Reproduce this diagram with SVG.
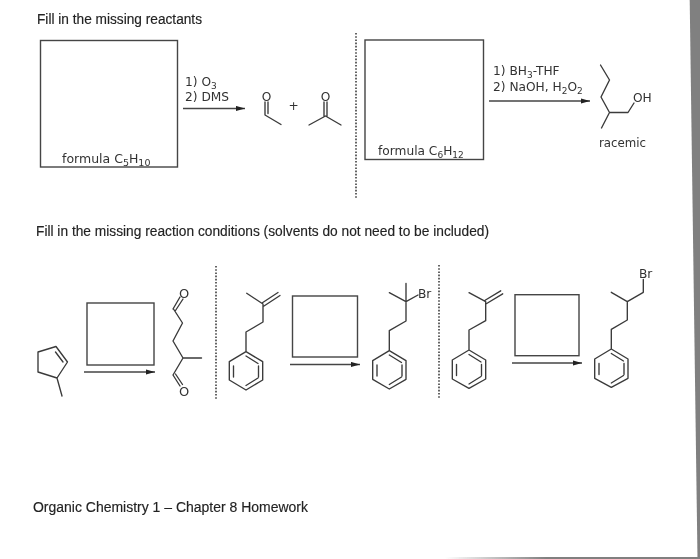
<svg xmlns="http://www.w3.org/2000/svg" width="700" height="559" viewBox="0 0 700 559">
<style>
.h{font-family:"Liberation Sans",Arial,sans-serif;font-size:14px;fill:#222;stroke:#222;stroke-width:0.15}
.t{font-family:"DejaVu Sans",Verdana,sans-serif;font-size:12.200px;fill:#333}
.s{font-size:9px}
.box{fill:#fff;stroke:#444;stroke-width:1.4}
.b{fill:none;stroke:#3a3a3a;stroke-width:1.350;stroke-linecap:round;stroke-linejoin:round}
.ar{fill:none;stroke:#444;stroke-width:1.300}
.dot{fill:none;stroke:#333;stroke-width:1.500;stroke-dasharray:1.600 1.600}
</style>
<defs>
<marker id="ah" markerUnits="userSpaceOnUse" markerWidth="9" markerHeight="6" refX="9" refY="3" orient="auto"><path d="M0 0.400L9 3L0 5.600Z" fill="#222"/></marker>
<linearGradient id="fade" x1="0" x2="1" y1="0" y2="0"><stop offset="0" stop-color="#808080" stop-opacity="0"/><stop offset="0.4" stop-color="#808080"/></linearGradient>
<filter id="soft" x="0" y="0" width="100%" height="100%"><feGaussianBlur stdDeviation="0.35"/></filter>
</defs>
<rect width="700" height="559" fill="#fff"/>
<g filter="url(#soft)">
<g id="page-edge">
<polygon points="689.700,0 700,0 700,559 697.500,559" fill="#808080"/>
<rect x="445" y="557" width="253" height="2" fill="url(#fade)"/>
</g>
<g id="headings">
<text class="h" x="37" y="24" textLength="165" lengthAdjust="spacingAndGlyphs">Fill in the missing reactants</text>
<text class="h" x="36" y="236" textLength="453" lengthAdjust="spacingAndGlyphs">Fill in the missing reaction conditions (solvents do not need to be included)</text>
<text class="h" x="33" y="512" textLength="275" lengthAdjust="spacingAndGlyphs">Organic Chemistry 1 – Chapter 8 Homework</text>
</g>
<g id="connectors">
<line class="ar" x1="183" y1="108.500" x2="245" y2="108.500" marker-end="url(#ah)"/>
<line class="ar" x1="489" y1="101" x2="590" y2="101" marker-end="url(#ah)"/>
<line class="ar" x1="84" y1="372" x2="155" y2="372" marker-end="url(#ah)"/>
<line class="ar" x1="290" y1="364.500" x2="360" y2="364.500" marker-end="url(#ah)"/>
<line class="ar" x1="512" y1="363" x2="582" y2="363" marker-end="url(#ah)"/>
<line class="dot" x1="356" y1="33" x2="356" y2="198"/>
<line class="dot" x1="216" y1="266" x2="216" y2="400"/>
<line class="dot" x1="439" y1="265" x2="439" y2="398"/>
</g>
<g id="box-c5h10">
<rect class="box" x="40.500" y="40.500" width="137" height="126.500"/>
<text class="t" x="62" y="163" style="font-size:12.500px">formula C<tspan class="s" dy="3" style="font-size:9.500px">5</tspan><tspan dy="-3">H</tspan><tspan class="s" dy="3" style="font-size:9.500px">10</tspan></text>
</g>
<g id="cond-ozonolysis">
<text class="t" x="185" y="86">1) O<tspan class="s" dy="3">3</tspan></text>
<text class="t" x="185" y="101">2) DMS</text>
</g>
<g id="aldehyde">
<path class="b" d="M265 102V115L281 124.500M268 102V113.500"/>
<text class="t" x="266.500" y="101" text-anchor="middle">O</text>
</g>
<g id="plus"><text class="t" x="293.500" y="110" text-anchor="middle">+</text></g>
<g id="acetone">
<path class="b" d="M324 102V116M327 102V116M309 125L325.500 116L341 125"/>
<text class="t" x="325.500" y="101" text-anchor="middle">O</text>
</g>
<g id="box-c6h12">
<rect class="box" x="365" y="40" width="118.500" height="119.500"/>
<text class="t" x="378" y="155">formula C<tspan class="s" dy="3">6</tspan><tspan dy="-3">H</tspan><tspan class="s" dy="3">12</tspan></text>
</g>
<g id="cond-hydroboration">
<text class="t" x="493" y="75">1) BH<tspan class="s" dy="3">3</tspan><tspan dy="-3">-THF</tspan></text>
<text class="t" x="493" y="91">2) NaOH, H<tspan class="s" dy="3">2</tspan><tspan dy="-3">O</tspan><tspan class="s" dy="3">2</tspan></text>
</g>
<g id="alcohol">
<path class="b" d="M600.500 65L609.500 80L601 97L609.500 112.500L628 112.500L634 103M609.500 112.500L601.500 128"/>
<text class="t" x="633" y="102">OH</text>
<text class="t" x="599" y="147" style="font-size:11.800px">racemic</text>
</g>
<g id="methylcyclopentene">
<path class="b" d="M38 352L56 346.500L67.500 362L57 378L38 372ZM55.500 352L63 362M57 378L62 396"/>
</g>
<g id="box-a">
<rect class="box" x="87" y="303" width="67" height="62"/>
</g>
<g id="dialdehyde">
<path class="b" d="M180 297L173 309M183 299L175.500 310.500M173.500 309L182.500 323L173 341L183 358L201.500 358M183 358L173 375M173 375L180 386M175.500 374L182.500 384.500"/>
<text class="t" x="184" y="298" text-anchor="middle" style="font-size:13px">O</text>
<text class="t" x="184" y="396" text-anchor="middle" style="font-size:13px">O</text>
</g>
<g id="alkene-1">
<path class="b" d="M246 351.700L262.700 361.700V380L246 390L229.300 380V361.700ZM246 356L258 363.500M258.500 366V377M246 385.500L258 378M233.500 366V377M246 351.700V332L263 322V304L246.700 293.300M262 303L278 292.500M264 306L280 295.500"/>
</g>
<g id="box-b">
<rect class="box" x="292.500" y="296" width="65" height="61"/>
</g>
<g id="bromide-tertiary">
<path class="b" d="M389.300 350.700L406 360.700V379.300L389.300 389L372.700 379.300V360.700ZM389.300 355L401.500 362.500M402 365V376M389.300 384.500L401.500 377M377 365V376M389.300 350.700V330.700L406 321V301.700L389.300 292.700M406 301.700V283.300M406 301.700L418 295"/>
<text class="t" x="418" y="298">Br</text>
</g>
<g id="alkene-2">
<path class="b" d="M469 350L485.700 360V379L469 388.300L452.300 379V360ZM469 354.500L481 362M481.500 364.500V375.500M469 384L481 376.500M456.500 364.500V375.500M469 350V330L485.700 320.700V301.700L469 292.700M484.700 300.500L500.700 290.800M486.700 303.500L502.700 293.800"/>
</g>
<g id="box-c">
<rect class="box" x="515" y="294.700" width="64" height="61"/>
</g>
<g id="bromide-primary">
<path class="b" d="M611.300 349L628 359V378.300L611.300 387.300L594.700 378.300V359ZM611.300 353.500L623.500 361M624 363.500V374.500M611.300 383L623.500 375.500M599 363.500V374.500M611.300 349V329.300L627.300 320V301.700L611.300 292.300M627.300 301.700L643.300 292.300V279.300"/>
<text class="t" x="639" y="277.500">Br</text>
</g>
</g>
</svg>
